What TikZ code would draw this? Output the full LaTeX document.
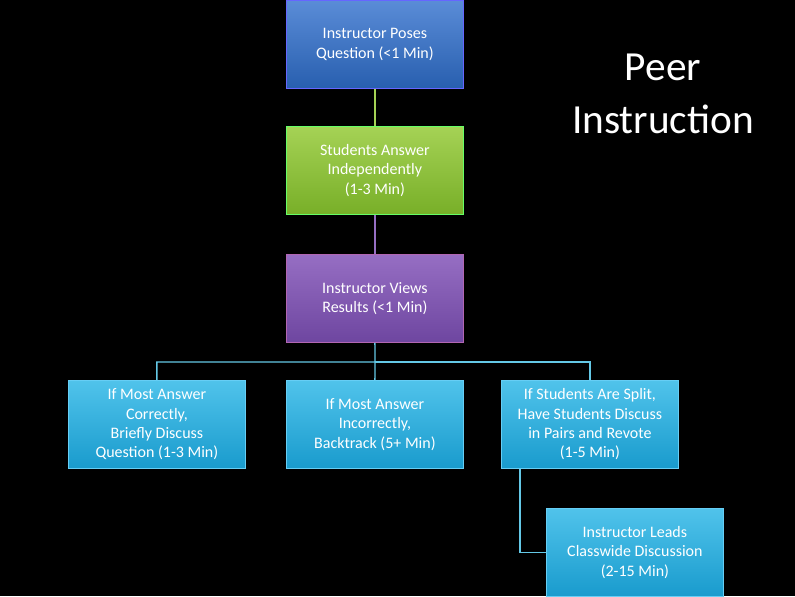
\documentclass[tikz,border=0pt]{standalone}
\usepackage{fontspec}
\setmainfont{Carlito}
\definecolor{gl}{RGB}{165,210,85}
\definecolor{pl}{RGB}{150,110,195}
\definecolor{cl}{RGB}{100,200,230}
\begin{document}
\begin{tikzpicture}[x=0.75pt,y=-0.75pt,
  box/.style={draw=#1!60!white,line width=0.6pt,minimum width=177*0.75pt,minimum height=88*0.75pt,inner sep=2pt,align=center,text=white,font=\fontsize{12}{14.5}\selectfont,anchor=north west},
  blu/.style={box=blue,top color={rgb,255:red,90;green,140;blue,215},bottom color={rgb,255:red,40;green,95;blue,175}},
  grn/.style={box=green,top color={rgb,255:red,165;green,210;blue,85},bottom color={rgb,255:red,120;green,175;blue,40}},
  pur/.style={box=violet,top color={rgb,255:red,150;green,110;blue,195},bottom color={rgb,255:red,110;green,70;blue,160}},
  cya/.style={box=cyan,top color={rgb,255:red,80;green,195;blue,235},bottom color={rgb,255:red,25;green,155;blue,205}},
  ln/.style={line width=1pt}]
\fill[black] (0,0) rectangle (795,596);
\useasboundingbox (0,0) rectangle (795,596);
\node[blu] (a) at (286,0) {Instructor Poses\\Question (<1 Min)};
\node[grn] (b) at (286,126) {Students Answer\\Independently\\(1-3 Min)};
\node[pur] (c) at (286,254) {Instructor Views\\Results (<1 Min)};
\node[cya] (d) at (68,380) {If Most Answer\\Correctly,\\Briefly Discuss\\Question (1-3 Min)};
\node[cya] (e) at (286,380) {If Most Answer\\Incorrectly,\\Backtrack (5+ Min)};
\node[cya] (f) at (501,380) {If Students Are Split,\\Have Students Discuss\\in Pairs and Revote\\(1-5 Min)};
\node[cya] (g) at (546,508) {Instructor Leads\\Classwide Discussion\\(2-15 Min)};
\coordinate (h) at (375,362);
\draw[ln,gl] (a.south) -- (b.north);
\draw[ln,pl] (b.south) -- (c.north);
\draw[ln,cl] (c.south) -- (h) -| (d.north);
\draw[ln,cl] (h) -- (e.north);
\draw[ln,cl] (h) -| (f.north);
\draw[ln,cl] (f.south west) ++(19,0) |- (g.west);
\node[text=white,font=\fontsize{31}{40}\selectfont,align=center] (t) at (663,94) {Peer\\Instruction};
\end{tikzpicture}
\end{document}
